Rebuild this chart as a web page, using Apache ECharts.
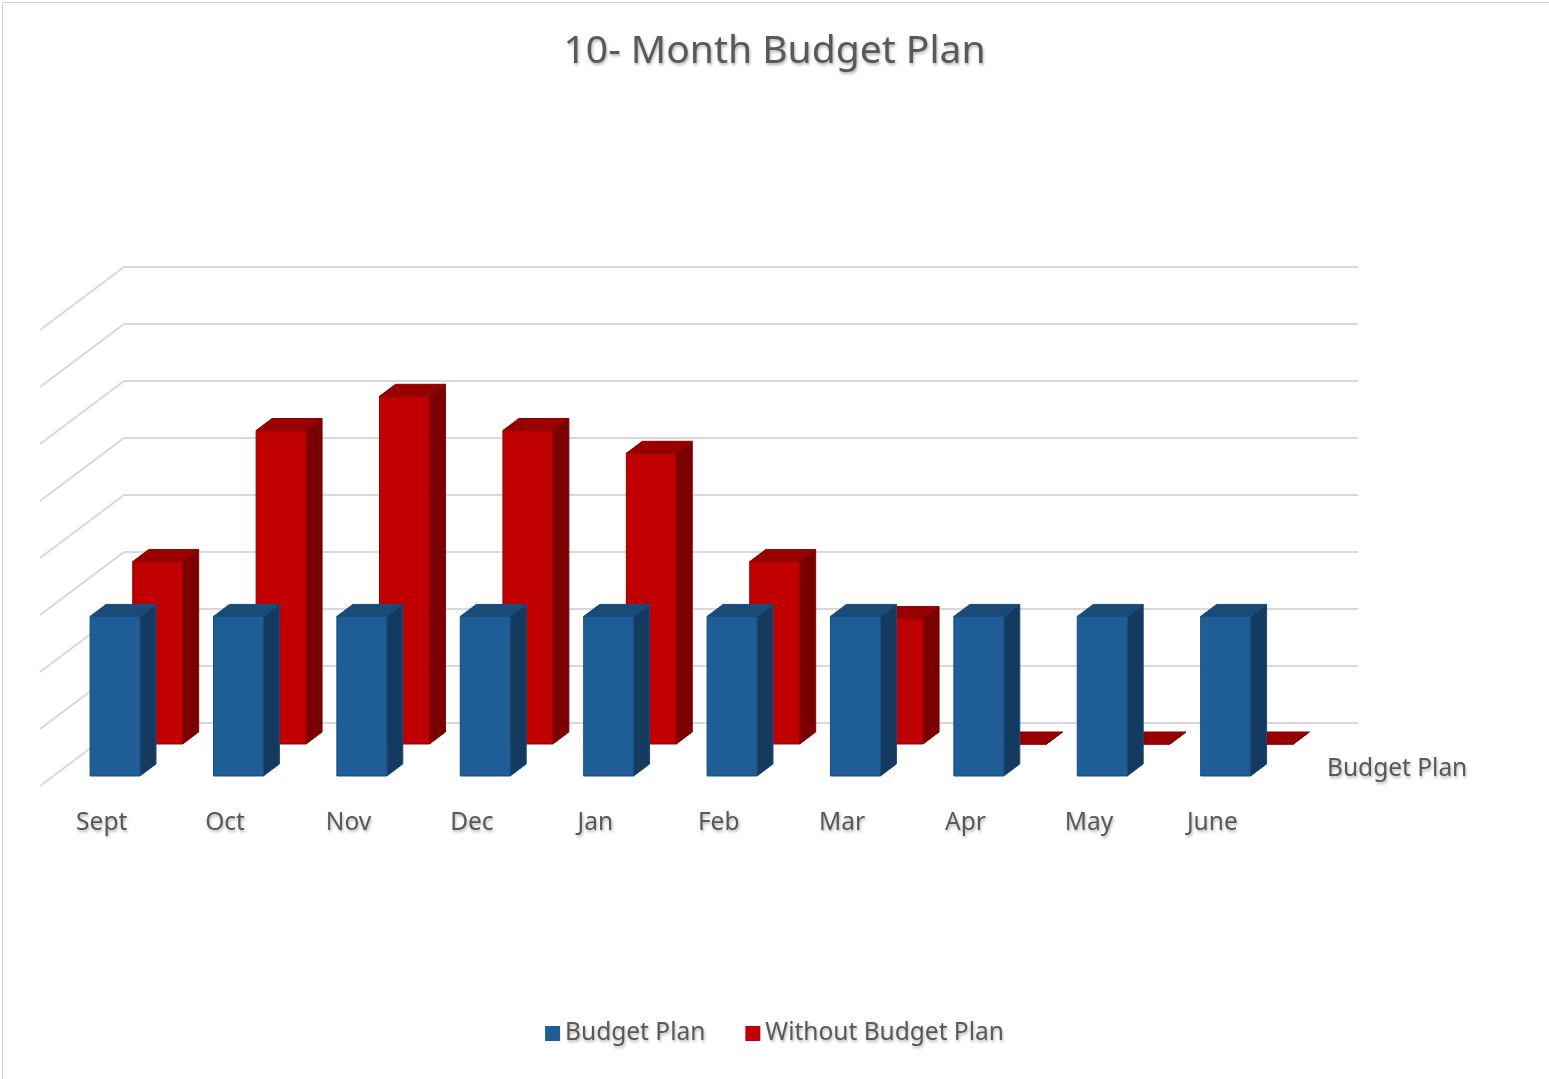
<!DOCTYPE html>
<html style="height: 100%">
<head>
    <meta charset="utf-8">
</head>
<body style="height: 100%; margin: 0">
<div id="container" style="width: 1549px; height: 1079px"></div>

<script type="text/javascript" src="https://cdn.jsdelivr.net/npm/echarts@6/dist/echarts.min.js"></script>

<script type="text/javascript">
    var months = ['Sept', 'Oct', 'Nov', 'Dec', 'Jan', 'Feb', 'Mar', 'Apr', 'May', 'June'];
    var budgetPlan = [1400, 1400, 1400, 1400, 1400, 1400, 1400, 1400, 1400, 1400];
    var withoutBudgetPlan = [1600, 2750, 3050, 2750, 2550, 1600, 1100, 0, 0, 0];
    var seriesNames = ['Budget Plan', 'Without Budget Plan'];
    var valueTicks = [0, 500, 1000, 1500, 2000, 2500, 3000, 3500, 4000];

    // oblique "3d": back wall is the cartesian grid, the front is shifted by (-DX, +DY)
    var DX = 84, DY = 63;
    var BAR_FRAC = 0.405;
    var textColor = '#595959';
    var shadow = {
        textShadowColor: 'rgba(0,0,0,0.3)',
        textShadowBlur: 3,
        textShadowOffsetX: 1,
        textShadowOffsetY: 2
    };

    var dom = document.getElementById("container");
    var myChart = echarts.init(dom);

    function shift(p, d) {
        return [p[0] - DX * (1 - d), p[1] + DY * (1 - d)];
    }

    function barRenderer(d0, d1, front, side, top, edge) {
        return function (params, api) {
            var idx = api.value(0), v = api.value(1);
            var t = api.coord([idx, v]);
            var b = api.coord([idx, 0]);
            var half = api.size([1, 0])[0] * BAR_FRAC / 2;
            var fl = t[0] - half, fr = t[0] + half;
            var ftl = shift([fl, t[1]], d0), ftr = shift([fr, t[1]], d0);
            var fbl = shift([fl, b[1]], d0), fbr = shift([fr, b[1]], d0);
            var btl = shift([fl, t[1]], d1), btr = shift([fr, t[1]], d1);
            var bbr = shift([fr, b[1]], d1);
            var ls = { stroke: edge, lineWidth: 1 };
            return {
                type: 'group',
                children: [
                    { type: 'polygon', shape: { points: [fbr, ftr, btr, bbr] },
                      style: Object.assign({ fill: side }, ls) },
                    { type: 'polygon', shape: { points: [ftl, ftr, btr, btl] },
                      style: Object.assign({ fill: top }, ls) },
                    { type: 'polygon', shape: { points: [ftl, ftr, fbr, fbl] },
                      style: Object.assign({ fill: front }, ls) }
                ]
            };
        };
    }

    function toData(arr) {
        return arr.map(function (v, i) { return [i, v]; });
    }

    var option = {
        animation: false,
        backgroundColor: '#ffffff',
        title: {
            text: '10- Month Budget Plan',
            left: 'center',
            top: 27,
            textStyle: Object.assign({
                fontFamily: 'Noto Sans',
                fontSize: 39,
                fontWeight: 'normal',
                color: textColor
            }, shadow)
        },
        legend: {
            data: seriesNames,
            bottom: 28,
            left: 'center',
            icon: 'rect',
            itemWidth: 15,
            itemHeight: 15,
            itemGap: 40,
            textStyle: Object.assign({
                fontFamily: 'Noto Sans',
                fontSize: 24.5,
                color: textColor
            }, shadow)
        },
        grid: [
            { left: 124, top: 267, width: 1234, height: 456 },
            { left: 40, top: 330, width: 1234, height: 456 }
        ],
        xAxis: [
            { type: 'category', gridIndex: 0, data: months,
              axisLine: { show: false }, axisTick: { show: false }, axisLabel: { show: false } },
            { type: 'category', gridIndex: 1, data: months,
              axisLine: { show: false }, axisTick: { show: false },
              axisLabel: Object.assign({
                  fontFamily: 'Noto Sans',
                  fontSize: 24.5,
                  color: textColor,
                  margin: 25
              }, shadow) }
        ],
        yAxis: [
            { type: 'value', gridIndex: 0, min: 0, max: 4000, interval: 500,
              axisLine: { show: false }, axisTick: { show: false }, axisLabel: { show: false },
              splitLine: { lineStyle: { color: '#d9d9d9', width: 2 } } },
            { type: 'value', gridIndex: 1, min: 0, max: 4000, interval: 500, show: false,
              splitLine: { show: false } }
        ],
        graphic: [
            {
                type: 'text',
                left: 1327,
                top: 757,
                style: Object.assign({
                    text: seriesNames[0],
                    fontFamily: 'Noto Sans',
                    fontSize: 24.5,
                    fill: textColor
                }, shadow)
            },
            {
                type: 'rect',
                left: 0,
                top: 0,
                shape: { x: 0.5, y: 0.5, width: 1547, height: 1077 },
                style: { fill: 'none', stroke: '#d0d0d0', lineWidth: 1 },
                silent: true
            }
        ],
        series: [
            {
                name: 'sideWall',
                type: 'custom',
                xAxisIndex: 0,
                yAxisIndex: 0,
                silent: true,
                data: valueTicks.map(function (v) { return [0, v]; }),
                renderItem: function (params, api) {
                    var p = api.coord([0, api.value(1)]);
                    var left = p[0] - api.size([1, 0])[0] / 2;
                    return {
                        type: 'line',
                        shape: { x1: left - DX, y1: p[1] + DY, x2: left, y2: p[1] },
                        style: { stroke: '#d9d9d9', lineWidth: 2 }
                    };
                }
            },
            {
                name: seriesNames[1],
                type: 'custom',
                xAxisIndex: 0,
                yAxisIndex: 0,
                itemStyle: { color: '#C00000' },
                data: toData(withoutBudgetPlan),
                renderItem: barRenderer(0.667, 0.857, '#C00000', '#7A0000', '#980000', '#8a0000')
            },
            {
                name: seriesNames[0],
                type: 'custom',
                xAxisIndex: 0,
                yAxisIndex: 0,
                itemStyle: { color: '#1F5D96' },
                data: toData(budgetPlan),
                renderItem: barRenderer(0.159, 0.349, '#1F5D96', '#153A5F', '#1A4A78', '#174c7e')
            }
        ]
    };

    myChart.setOption(option);
</script>
</body>
</html>
